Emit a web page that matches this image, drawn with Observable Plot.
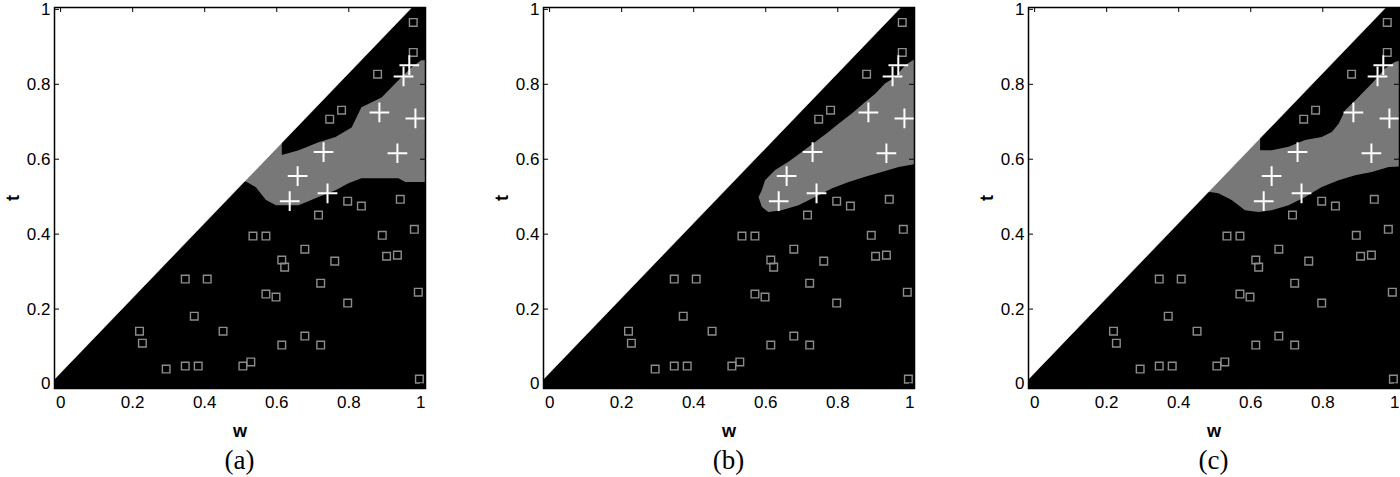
<!DOCTYPE html>
<html>
<head>
<meta charset="utf-8">
<script src="https://cdn.jsdelivr.net/npm/d3@7"></script>
<script src="https://cdn.jsdelivr.net/npm/@observablehq/plot@0.6"></script>
<style>
  html, body { margin: 0; padding: 0; background: white; overflow: hidden; }
  #wrap { position: relative; width: 1400px; height: 477px; overflow: hidden; }
  .panel { position: absolute; top: 0; width: 487px; }
  .panel svg { max-width: none !important; display: block; }
  .cap { width: 371px; margin-left: 54px; text-align: center; font-family: "Liberation Serif", "Times New Roman", serif; font-size: 27px; line-height: 30px; color: #000; }
</style>
</head>
<body>
<div id="wrap"></div>
<script>
// ---------------- data ----------------
const xTicks = [0, 0.2, 0.4, 0.6, 0.8, 1];
const yTicks = [0, 0.2, 0.4, 0.6, 0.8, 1];
const panelLabels = ["(a)", "(b)", "(c)"];

// training samples of class "square" (w, t)
const squareW = [0.979, 0.979, 0.880, 0.780, 0.747, 0.797, 0.835, 0.943, 0.716, 0.982, 0.893, 0.534, 0.570,
  0.678, 0.614, 0.622, 0.761, 0.905, 0.935, 0.346, 0.407, 0.722, 0.570, 0.598, 0.993, 0.797, 0.371,
  0.219, 0.451, 0.227, 0.678, 0.614, 0.722, 0.293, 0.346, 0.382, 0.506, 0.528, 0.996];
const squareT = [0.965, 0.885, 0.827, 0.731, 0.707, 0.488, 0.475, 0.493, 0.451, 0.413, 0.397, 0.395, 0.395,
  0.360, 0.331, 0.312, 0.328, 0.341, 0.344, 0.280, 0.280, 0.269, 0.240, 0.232, 0.245, 0.216, 0.181,
  0.141, 0.141, 0.109, 0.128, 0.104, 0.104, 0.040, 0.048, 0.048, 0.048, 0.059, 0.013];

// training samples of class "plus" (w, t)
const plusW = [0.968, 0.952, 0.885, 0.985, 0.730, 0.935, 0.658, 0.741, 0.636];
const plusT = [0.851, 0.821, 0.725, 0.709, 0.619, 0.616, 0.555, 0.509, 0.488];

// decision region of class "plus" (gray) for each panel, as outline (w, t)
const grayA = [[0.50, 0.545], [0.517, 0.539], [0.542, 0.525], [0.570, 0.491], [0.598, 0.477], [0.661, 0.477],
  [0.716, 0.499], [0.763, 0.517], [0.799, 0.536], [0.835, 0.549], [0.938, 0.549], [0.957, 0.539], [1.02, 0.539],
  [1.02, 0.864], [1.001, 0.864], [0.974, 0.845], [0.938, 0.811], [0.891, 0.765], [0.835, 0.739], [0.808, 0.685],
  [0.763, 0.659], [0.716, 0.645], [0.661, 0.624], [0.614, 0.611], [0.614, 0.70], [0.50, 0.70]];
const grayB = [[1.02, 0.871], [0.987, 0.851], [0.959, 0.819], [0.931, 0.802], [0.904, 0.775], [0.876, 0.753],
  [0.839, 0.722], [0.802, 0.695], [0.774, 0.673], [0.737, 0.646], [0.700, 0.619], [0.663, 0.593], [0.626, 0.571],
  [0.598, 0.544], [0.589, 0.517], [0.580, 0.499], [0.589, 0.473], [0.607, 0.459], [0.644, 0.464], [0.691, 0.477],
  [0.737, 0.499], [0.783, 0.522], [0.830, 0.539], [0.876, 0.553], [0.922, 0.566], [0.969, 0.579], [1.02, 0.588]];
const grayC = [[0.46, 0.52], [0.482, 0.513], [0.510, 0.509], [0.547, 0.491], [0.584, 0.464], [0.621, 0.459],
  [0.658, 0.464], [0.705, 0.477], [0.751, 0.499], [0.797, 0.526], [0.844, 0.544], [0.890, 0.557], [0.936, 0.566],
  [0.983, 0.579], [1.02, 0.581], [1.02, 0.864], [1.001, 0.860], [0.973, 0.842], [0.936, 0.802], [0.890, 0.757],
  [0.862, 0.731], [0.844, 0.695], [0.825, 0.673], [0.797, 0.659], [0.751, 0.651], [0.705, 0.633], [0.658, 0.624],
  [0.626, 0.624], [0.626, 0.70], [0.46, 0.70]];

// infeasible region (t > w), left blank in the figure
const infeasible = [[-0.017, 0.013], [0.975, 1.005], [-0.017, 1.005]];

const xDomain = [-0.017, 1.013];
const yDomain = [-0.012, 1.005];

// ---------------- drawing ----------------
const squares = squareW.map((w, i) => ({w, t: squareT[i]}));
const pluses = plusW.map((w, i) => ({w, t: plusT[i]}));
const grays = [grayA, grayB, grayC];
const lefts = [0, 489, 974];
const fmt = d => String(d);

const W = 487, H = 445, mL = 54, mR = 62, mT = 7, mB = 57;
const pW = W - mL - mR, pH = H - mT - mB;
const wrap = document.getElementById("wrap");

grays.forEach((gray, k) => {
  const div = document.createElement("div");
  div.className = "panel";
  div.style.left = lefts[k] + "px";
  const svg = Plot.plot({
    width: W, height: H,
    marginLeft: mL, marginRight: mR, marginTop: mT, marginBottom: mB,
    x: {domain: xDomain},
    y: {domain: yDomain},
    style: {fontFamily: "'Liberation Sans', Arial, sans-serif", fontSize: "17px", background: "white", color: "#000", overflow: "visible"},
    marks: [
      Plot.frame({fill: "black", stroke: null}),
      Plot.line(gray, {x: d => d[0], y: d => d[1], fill: "#787878", stroke: "none", clip: true}),
      Plot.line(infeasible, {x: d => d[0], y: d => d[1], fill: "white", stroke: "white", strokeWidth: 0.5, clip: true}),
      Plot.dot(squares, {x: "w", y: "t", symbol: "square", r: 4.3, stroke: "#8c8c8c", strokeWidth: 1.4, fill: "none"}),
      Plot.dot(pluses, {x: "w", y: "t", symbol: "plus", r: 6.4, stroke: "white", strokeWidth: 2}),
      Plot.tickX(xTicks, {x: d => d, insetTop: pH - 5, stroke: "black"}),
      Plot.tickX(xTicks, {x: d => d, insetBottom: pH - 5, stroke: "black"}),
      Plot.tickY(yTicks, {y: d => d, insetRight: pW - 5, stroke: "black"}),
      Plot.tickY(yTicks, {y: d => d, insetLeft: pW - 5, stroke: "black"}),
      Plot.frame({stroke: "black", strokeWidth: 1.5}),
      Plot.axisX(xTicks, {tickSize: 0, tickPadding: 7, tickFormat: fmt, fontSize: 17, label: "w", labelAnchor: "center", labelOffset: 48, labelArrow: "none"}),
      Plot.axisY(yTicks, {tickSize: 0, tickPadding: 4, tickFormat: fmt, fontSize: 17, label: "t", labelAnchor: "center", labelOffset: 48, labelArrow: "none"})
    ]
  });
  svg.querySelectorAll('[aria-label="x-axis label"], [aria-label="y-axis label"]').forEach(g => {
    g.setAttribute("font-weight", "bold");
    g.setAttribute("font-size", "18");
  });
  div.appendChild(svg);
  const cap = document.createElement("div");
  cap.className = "cap";
  cap.textContent = panelLabels[k];
  div.appendChild(cap);
  wrap.appendChild(div);
});
</script>
</body>
</html>
